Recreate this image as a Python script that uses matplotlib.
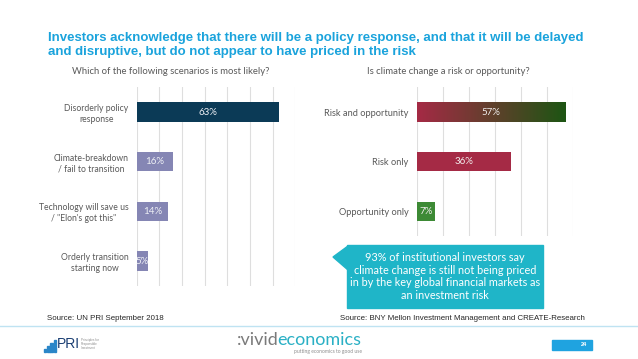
import numpy as np
import matplotlib.pyplot as plt
from matplotlib.colors import LinearSegmentedColormap
from matplotlib.patches import Polygon, Rectangle

# chart data
left_labels = ['Disorderly policy\nresponse', 'Climate-breakdown\n/ fail to transition',
               'Technology will save us\n/ "Elon\'s got this"', 'Orderly transition\nstarting now']
left_values = [63, 16, 14, 5]
right_labels = ['Risk and opportunity', 'Risk only', 'Opportunity only']
right_values = [57, 36, 7]

title_lines = ['Investors acknowledge that there will be a policy response, and that it will be delayed',
               'and disruptive, but do not appear to have priced in the risk']
callout = ('93% of institutional investors say\nclimate change is still not being priced\n'
           'in by the key global financial markets as\nan investment risk')

W, H = 638, 359
fig = plt.figure(figsize=(W / 100, H / 100), dpi=100)
fig.patch.set_facecolor('white')

BODY = 'Lato'
GRID = '#dedede'
LBL = '#595959'


def fx(px):
    return px / W


def fy(py):
    return 1 - py / H


def style_axis(ax, xmax, n):
    ax.set_xlim(0, xmax)
    ax.set_ylim(n - 0.5, -0.5)
    ax.set_xticks(np.arange(0, xmax + 1, 10))
    ax.tick_params(axis='x', length=0, labelbottom=False)
    ax.tick_params(axis='y', length=0, pad=6)
    ax.grid(axis='x', color=GRID, linewidth=0.8)
    ax.set_axisbelow(True)
    for s in ax.spines.values():
        s.set_visible(False)


# left chart
axl = fig.add_axes([fx(136.7), fy(286), fx(295.3 - 136.7), (286 - 87.2) / H])
style_axis(axl, 70, len(left_values))
ypos = np.arange(len(left_values))
colors_l = ['#0b3a56'] + ['#8586b4'] * 3
axl.barh(ypos, left_values, height=0.39, color=colors_l)
axl.set_yticks(ypos)
axl.set_yticklabels(left_labels, fontsize=6.2, color=LBL, family=BODY)
for t in axl.get_yticklabels():
    t.set_multialignment('center')
    t.set_linespacing(1.25)
for y, v in zip(ypos, left_values):
    axl.text(v / 2, y, f'{v}%', ha='center', va='center', color='#eef0f5',
             fontsize=7, family=BODY)

# right chart
axr = fig.add_axes([fx(416.7), fy(236.2), fx(573.3 - 416.7), (236.2 - 87.2) / H])
style_axis(axr, 60, len(right_values))
ypr = np.arange(len(right_values))
colors_r = ['none', '#a52a45', '#3d8a35']
bars = axr.barh(ypr, right_values, height=0.39, color=colors_r)
# gradient fill for the first bar
grad = LinearSegmentedColormap.from_list('rg', ['#a52a45', '#1d5513'])
b0 = bars[0]
x0, y0 = b0.get_x(), b0.get_y()
im = axr.imshow(np.linspace(0, 1, 256).reshape(1, -1), cmap=grad, aspect='auto',
                extent=[x0, x0 + b0.get_width(), y0 + b0.get_height(), y0], zorder=2)
im.set_clip_path(b0)
axr.set_xlim(0, 60)
axr.set_ylim(len(right_values) - 0.5, -0.5)
axr.set_yticks(ypr)
axr.set_yticklabels(right_labels, fontsize=6.7, color=LBL, family=BODY)
for y, v in zip(ypr, right_values):
    axr.text(v / 2, y, f'{v}%', ha='center', va='center', color='#f2eeee',
             fontsize=7, family=BODY, zorder=3)

# titles
for i, line in enumerate(title_lines):
    fig.text(fx(48), fy(41 + i * 14), line, ha='left', va='baseline', color='#1aa3dc',
             fontsize=9.5, fontweight='bold', family='Liberation Sans')
fig.text(fx(171), fy(72), 'Which of the following scenarios is most likely?', ha='center',
         va='center', fontsize=6.8, color=LBL, family=BODY)
fig.text(fx(448), fy(72), 'Is climate change a risk or opportunity?', ha='center',
         va='center', fontsize=6.8, color=LBL, family=BODY)

# callout box
teal = '#1fb5c8'
fig.patches.append(Rectangle((fx(347), fy(308)), fx(543 - 347), (308 - 245) / H,
                             transform=fig.transFigure, color=teal, zorder=1))
fig.patches.append(Polygon([(fx(333), fy(257)), (fx(348), fy(246)), (fx(348), fy(270))],
                           closed=True, transform=fig.transFigure, color=teal, zorder=1))
fig.text(fx(445), fy(276.5), callout, ha='center', va='center', color='white',
         fontsize=7.8, family=BODY, linespacing=1.2, zorder=2)

# sources
fig.text(fx(47), fy(318), 'Source: UN PRI September 2018', ha='left', va='center',
         fontsize=5.7, color='#262626', family='Liberation Sans')
fig.text(fx(340), fy(318), 'Source: BNY Mellon Investment Management and CREATE-Research',
         ha='left', va='center', fontsize=5.7, color='#262626', family='Liberation Sans')

# footer
fig.add_artist(plt.Line2D([0, 1], [fy(326), fy(326)], color='#bfe3f2', linewidth=1.0))

# PRI logo
dot = '#2a86c8'
cells = [(3, 0), (2, 1), (3, 1), (1, 2), (2, 2), (3, 2), (0, 3), (1, 3), (2, 3), (3, 3)]
for cx, cy in cells:
    fig.patches.append(Rectangle((fx(44 + cx * 3.2), fy(349 - (3 - cy) * 3.0 + 0.2) - 2.4 / H),
                                 2.4 / W, 2.4 / H, transform=fig.transFigure, color=dot))
fig.text(fx(57), fy(344), 'PRI', ha='left', va='center', fontsize=10, color='#1b3f73',
         family='Liberation Sans')
fig.text(fx(81), fy(344), 'Principles for\nResponsible\nInvestment', ha='left', va='center',
         fontsize=2.2, color='#8c8c8c', family='Liberation Sans', linespacing=1.1)

# vivideconomics logo
t1 = fig.text(fx(237), fy(340), ':vivid', ha='left', va='center', fontsize=13,
              color='#7a7a7a', family=BODY)
fig.canvas.draw()
bb = t1.get_window_extent()
fig.text((bb.x1 - 1.5) / fig.dpi / fig.get_figwidth(), fy(340), 'economics', ha='left',
         va='center', fontsize=13, color='#2ab0c5', family=BODY)
fig.text(fx(362), fy(352), 'putting economics to good use', ha='right', va='center',
         fontsize=3.6, color='#8c8c8c', family=BODY)

# page number box
fig.patches.append(Rectangle((fx(552), fy(349.5)), fx(591.5 - 552), 10 / H,
                             transform=fig.transFigure, color='#1fa3e0'))
fig.text(fx(587), fy(344.5), '24', ha='right', va='center', fontsize=4, color='white',
         fontweight='bold', family='Liberation Sans')

fig.savefig('out.png', dpi=100)
